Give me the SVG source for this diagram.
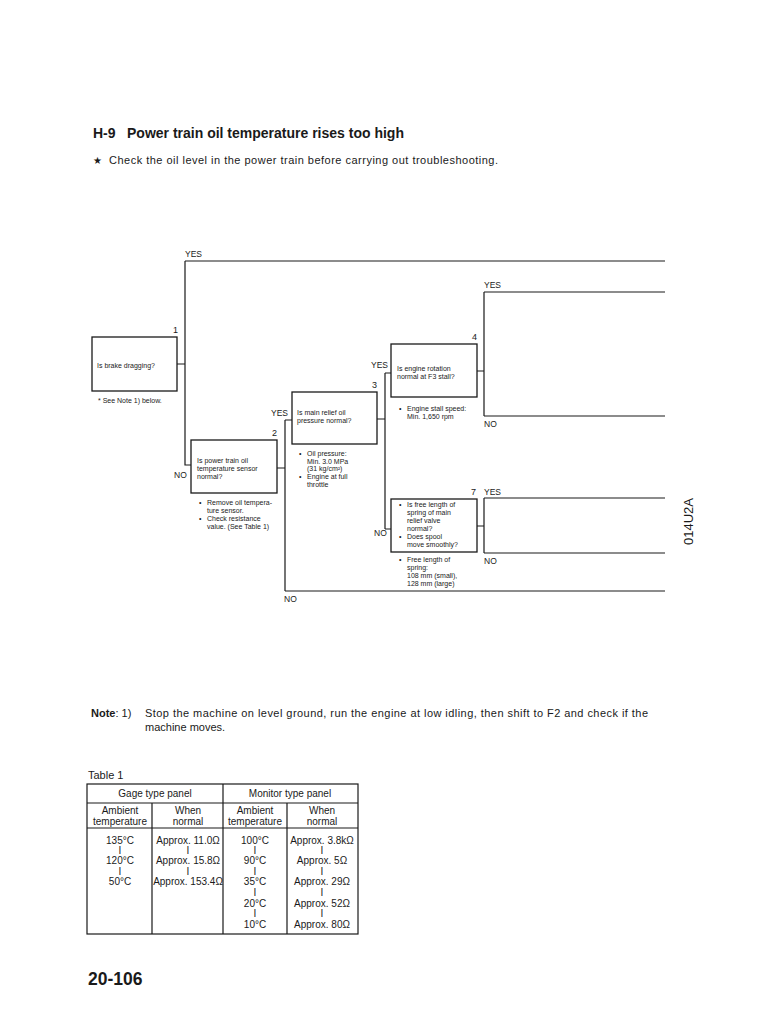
<svg xmlns="http://www.w3.org/2000/svg" width="768" height="1024" viewBox="0 0 768 1024">
<style>
text{font-family:"Liberation Sans",Arial,sans-serif;fill:#1a1a1a}
.t{font-size:14px;font-weight:bold}
.b{font-size:11px}
.s{font-size:7px}
.yn{font-size:8.5px}
.n{font-size:9px}
.tb{font-size:10px;text-anchor:middle}
.box{fill:#fff;stroke:#1a1a1a;stroke-width:1.3}
.ln{fill:none;stroke:#1a1a1a;stroke-width:1.2}
</style>
<rect width="768" height="1024" fill="#fff"/>
<g id="header">
<text class="t" x="93" y="138">H-9</text>
<text class="t" x="127" y="138">Power train oil temperature rises too high</text>
<text class="b" x="93" y="164"><tspan font-family="DejaVu Sans,sans-serif" font-size="10">★</tspan></text>
<text class="b" x="109" y="164" textLength="389" lengthAdjust="spacing">Check the oil level in the power train before carrying out troubleshooting.</text>
</g>
<g id="connectors">
<path class="ln" d="M177,364H185M185,261V465H191M185,261H665"/>
<path class="ln" d="M277,468H285M285,420V591M285,420H292M285,591H665"/>
<path class="ln" d="M377,419H385M385,373V529M385,373H391M385,529H391"/>
<path class="ln" d="M477,371H484M484,292V416M484,292H665M484,416H665"/>
<path class="ln" d="M477,526H484M484,498V553M484,498H665M484,553H665"/>
<text class="yn" x="185" y="257">YES</text>
<text class="yn" x="174" y="478">NO</text>
<text class="yn" x="271" y="416">YES</text>
<text class="yn" x="284" y="602">NO</text>
<text class="yn" x="371" y="368">YES</text>
<text class="yn" x="374" y="536">NO</text>
<text class="yn" x="484" y="288">YES</text>
<text class="yn" x="484" y="427">NO</text>
<text class="yn" x="484" y="495">YES</text>
<text class="yn" x="484" y="564">NO</text>
</g>
<g id="node1">
<rect class="box" x="92" y="337" width="85" height="54"/>
<text class="n" x="178" y="333" text-anchor="end">1</text>
<text class="s" x="97" y="368">Is brake dragging?</text>
<text class="s" x="98" y="403">* See Note 1) below.</text>
</g>
<g id="node2">
<rect class="box" x="191" y="440" width="86" height="53"/>
<text class="n" x="277" y="436" text-anchor="end">2</text>
<text class="s" x="197" y="463">Is power train oil</text>
<text class="s" x="197" y="471">temperature sensor</text>
<text class="s" x="197" y="479">normal?</text>
<text class="s" x="199" y="505">•</text><text class="s" x="207" y="505">Remove oil tempera-</text>
<text class="s" x="207" y="513">ture sensor.</text>
<text class="s" x="199" y="521">•</text><text class="s" x="207" y="521">Check resistance</text>
<text class="s" x="207" y="529">value. (See Table 1)</text>
</g>
<g id="node3">
<rect class="box" x="292" y="392" width="85" height="52"/>
<text class="n" x="377" y="388" text-anchor="end">3</text>
<text class="s" x="297" y="415">Is main relief oil</text>
<text class="s" x="297" y="423">pressure normal?</text>
<text class="s" x="299" y="456">•</text><text class="s" x="307" y="456">Oil pressure:</text>
<text class="s" x="307" y="464">Min. 3.0 MPa</text>
<text class="s" x="307" y="471">(31 kg/cm²)</text>
<text class="s" x="299" y="479">•</text><text class="s" x="307" y="479">Engine at full</text>
<text class="s" x="307" y="487">throttle</text>
</g>
<g id="node4">
<rect class="box" x="391" y="344" width="86" height="53"/>
<text class="n" x="477" y="340" text-anchor="end">4</text>
<text class="s" x="397" y="371">Is engine rotation</text>
<text class="s" x="397" y="379">normal at F3 stall?</text>
<text class="s" x="399" y="411">•</text><text class="s" x="407" y="411">Engine stall speed:</text>
<text class="s" x="407" y="419">Min. 1,650 rpm</text>
</g>
<g id="node7">
<rect class="box" x="391" y="499" width="86" height="53"/>
<text class="n" x="476" y="495" text-anchor="end">7</text>
<text class="s" x="399" y="507">•</text><text class="s" x="407" y="507">Is free length of</text>
<text class="s" x="407" y="515">spring of main</text>
<text class="s" x="407" y="523">relief valve</text>
<text class="s" x="407" y="531">normal?</text>
<text class="s" x="399" y="539">•</text><text class="s" x="407" y="539">Does spool</text>
<text class="s" x="407" y="547">move smoothly?</text>
<text class="s" x="399" y="562">•</text><text class="s" x="407" y="562">Free length of</text>
<text class="s" x="407" y="570">spring:</text>
<text class="s" x="407" y="578">108 mm (small),</text>
<text class="s" x="407" y="586">128 mm (large)</text>
</g>
<g id="figure-id">
<text transform="translate(693,545) rotate(-90)" font-size="13">014U2A</text>
</g>
<g id="note">
<text class="b" x="91" y="717"><tspan font-weight="bold">Note</tspan>: 1)</text>
<text class="b" x="145" y="717" textLength="503" lengthAdjust="spacing">Stop the machine on level ground, run the engine at low idling, then shift to F2 and check if the</text>
<text class="b" x="145" y="731">machine moves.</text>
</g>
<g id="table1">
<text class="b" x="88" y="779">Table 1</text>
<rect x="87" y="784" width="271" height="150" fill="none" stroke="#1a1a1a" stroke-width="1.2"/>
<path class="ln" d="M87,803H358M87,828H358M223,784V934M152,803V934M287,803V934"/>
<text class="tb" x="155" y="797">Gage type panel</text>
<text class="tb" x="290" y="797">Monitor type panel</text>
<text class="tb" x="120" y="814">Ambient</text><text class="tb" x="120" y="825">temperature</text>
<text class="tb" x="188" y="814">When</text><text class="tb" x="188" y="825">normal</text>
<text class="tb" x="255" y="814">Ambient</text><text class="tb" x="255" y="825">temperature</text>
<text class="tb" x="322" y="814">When</text><text class="tb" x="322" y="825">normal</text>
<text class="tb" x="120" y="844">135°C</text><text class="tb" x="120" y="854">I</text>
<text class="tb" x="120" y="864">120°C</text><text class="tb" x="120" y="875">I</text>
<text class="tb" x="120" y="885">50°C</text>
<text class="tb" x="188" y="844">Approx. 11.0Ω</text><text class="tb" x="188" y="854">I</text>
<text class="tb" x="188" y="864">Approx. 15.8Ω</text><text class="tb" x="188" y="875">I</text>
<text class="tb" x="188" y="885">Approx. 153.4Ω</text>
<text class="tb" x="255" y="844">100°C</text><text class="tb" x="255" y="854">I</text>
<text class="tb" x="255" y="864">90°C</text><text class="tb" x="255" y="875">I</text>
<text class="tb" x="255" y="885">35°C</text><text class="tb" x="255" y="896">I</text>
<text class="tb" x="255" y="907">20°C</text><text class="tb" x="255" y="917">I</text>
<text class="tb" x="255" y="928">10°C</text>
<text class="tb" x="322" y="844">Approx. 3.8kΩ</text><text class="tb" x="322" y="854">I</text>
<text class="tb" x="322" y="864">Approx. 5Ω</text><text class="tb" x="322" y="875">I</text>
<text class="tb" x="322" y="885">Approx. 29Ω</text><text class="tb" x="322" y="896">I</text>
<text class="tb" x="322" y="907">Approx. 52Ω</text><text class="tb" x="322" y="917">I</text>
<text class="tb" x="322" y="928">Approx. 80Ω</text>
</g>
<g id="page">
<text x="88" y="985" font-size="17.5" font-weight="bold">20-106</text>
</g>
</svg>
